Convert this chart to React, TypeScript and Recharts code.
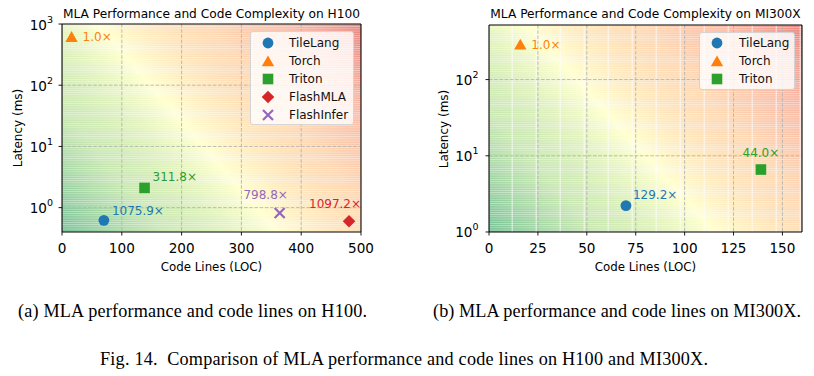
import React from 'react';
import { ScatterChart, Scatter, XAxis, YAxis, CartesianGrid, Legend } from 'recharts';

// ---------------- data ----------------
const h100Methods = ['TileLang', 'Torch', 'Triton', 'FlashMLA', 'FlashInfer'];
const h100Loc = [70, 16, 138, 480, 364];
const h100Latency = [0.62, 620, 2.1, 0.6, 0.82];
const h100Speedup = ['1075.9×', '1.0×', '311.8×', '1097.2×', '798.8×'];

const mi300Methods = ['TileLang', 'Torch', 'Triton'];
const mi300Loc = [70, 16, 139];
const mi300Latency = [2.22, 290, 6.6];
const mi300Speedup = ['129.2×', '1.0×', '44.0×'];

const h100XTicks = [0, 100, 200, 300, 400, 500];
const mi300XTicks = [0, 25, 50, 75, 100, 125, 150];
const h100YTicks = [1, 10, 100, 1000];
const mi300YTicks = [1, 10, 100];

const h100Title = 'MLA Performance and Code Complexity on H100';
const mi300Title = 'MLA Performance and Code Complexity on MI300X';
const xLabel = 'Code Lines (LOC)';
const yLabel = 'Latency (ms)';
const captionA = '(a) MLA performance and code lines on H100.';
const captionB = '(b) MLA performance and code lines on MI300X.';
const figCaption = 'Fig. 14.  Comparison of MLA performance and code lines on H100 and MI300X.';

// ---------------- styles ----------------
const FONT = '"DejaVu Sans", sans-serif';
const SERIF = '"Liberation Serif", "DejaVu Serif", serif';
const AXW = 0.01; // near-zero axis box so axes sit on the plot edge

const COLOR: Record<string, string> = {
  TileLang: '#1f77b4',
  Torch: '#ff7f0e',
  Triton: '#2ca02c',
  FlashMLA: '#d62728',
  FlashInfer: '#9467bd',
};
const SHAPE: Record<string, string> = {
  TileLang: 'circle',
  Torch: 'triangle',
  Triton: 'square',
  FlashMLA: 'diamond',
  FlashInfer: 'x',
};

type LabelPos = { dx: number; dy: number; anchor: 'start' | 'middle' | 'end' };
const h100LabelPos: Record<string, LabelPos> = {
  TileLang: { dx: 8, dy: -10, anchor: 'start' },
  Torch: { dx: 11, dy: 0, anchor: 'start' },
  Triton: { dx: 8, dy: -11, anchor: 'start' },
  FlashMLA: { dx: -14, dy: -18, anchor: 'middle' },
  FlashInfer: { dx: -14, dy: -18, anchor: 'middle' },
};
const mi300LabelPos: Record<string, LabelPos> = {
  TileLang: { dx: 7, dy: -11, anchor: 'start' },
  Torch: { dx: 11, dy: 0, anchor: 'start' },
  Triton: { dx: 0, dy: -17, anchor: 'middle' },
};

function minorTicksFor(lo: number, hi: number): number[] {
  const out: number[] = [];
  for (let e = Math.floor(Math.log10(lo)); e <= Math.ceil(Math.log10(hi)); e++) {
    for (let k = 2; k <= 9; k++) {
      const v = k * Math.pow(10, e);
      if (v > lo * 1.001 && v < hi * 0.999) out.push(v);
    }
  }
  return out;
}

function MarkerGlyph({ kind, cx, cy, color }: { kind: string; cx: number; cy: number; color: string }) {
  switch (kind) {
    case 'circle':
      return <circle cx={cx} cy={cy} r={5.4} fill={color} />;
    case 'triangle':
      return (
        <polygon
          points={`${cx},${cy - 5.6} ${cx - 6.2},${cy + 5.2} ${cx + 6.2},${cy + 5.2}`}
          fill={color}
        />
      );
    case 'square':
      return <rect x={cx - 5.3} y={cy - 5.3} width={10.6} height={10.6} fill={color} />;
    case 'diamond':
      return (
        <polygon
          points={`${cx},${cy - 6.3} ${cx + 6.3},${cy} ${cx},${cy + 6.3} ${cx - 6.3},${cy}`}
          fill={color}
        />
      );
    default:
      return (
        <path
          d={`M${cx - 5},${cy - 5}L${cx + 5},${cy + 5}M${cx - 5},${cy + 5}L${cx + 5},${cy - 5}`}
          stroke={color}
          strokeWidth={2.2}
          fill="none"
        />
      );
  }
}

function XTickLabel(p: any) {
  return (
    <text x={p.x} y={p.y} dy="0.71em" textAnchor="middle" fontSize={13.6} fontFamily={FONT} fill="#000">
      {p.payload.value}
    </text>
  );
}

function YTickLabel(p: any) {
  const exp = Math.round(Math.log10(p.payload.value));
  return (
    <text x={p.x} y={p.y} textAnchor="end" fontSize={13.6} fontFamily={FONT} fill="#000">
      <tspan dy={5.5}>10</tspan>
      <tspan dy={-7} fontSize={9.5}>
        {exp}
      </tspan>
    </text>
  );
}

function LegendBox({ methods, width, height, padTop, gap }: { methods: string[]; width: number; height: number; padTop: number; gap: number }) {
  return (
    <div
      style={{
        boxSizing: 'border-box',
        width,
        height,
        border: '1px solid #d4d4d4',
        borderRadius: 3,
        background: 'rgba(255,255,255,0.8)',
        paddingTop: padTop,
        fontFamily: FONT,
      }}
    >
      {methods.map((m) => (
        <div key={m} style={{ height: 18, display: 'flex', alignItems: 'center' }}>
          <svg width={35} height={18} style={{ flex: 'none' }}>
            <MarkerGlyph kind={SHAPE[m]} cx={17} cy={9} color={COLOR[m]} />
          </svg>
          <span style={{ fontSize: 12, marginLeft: gap, color: '#111', whiteSpace: 'nowrap' }}>{m}</span>
        </div>
      ))}
    </div>
  );
}

type PanelProps = {
  id: string;
  methods: string[];
  loc: number[];
  latency: number[];
  speedup: string[];
  xDomain: [number, number];
  xTicks: number[];
  yDomain: [number, number];
  yTicks: number[];
  labelPos: Record<string, LabelPos>;
  width: number;
  height: number;
  margin: { top: number; right: number; bottom: number; left: number };
  legend: { left: number; top: number; width: number; height: number; padTop: number; gap: number };
  vStripes: boolean;
  yTickMargin: number;
};

function Panel(props: PanelProps) {
  const { id, methods, loc, latency, speedup, xDomain, xTicks, yDomain, yTicks, labelPos, width, height, margin, legend, vStripes, yTickMargin } = props;
  const minor = minorTicksFor(yDomain[0], yDomain[1]);
  const plotX = margin.left;
  const plotY = margin.top;
  const innerX = xTicks.filter((t) => t > xDomain[0] && t < xDomain[1]);
  const innerY = yTicks.filter((t) => t > yDomain[0] && t < yDomain[1]);
  return (
    <ScatterChart width={width} height={height} margin={margin}>
      <defs>
        <linearGradient id={`${id}-grad`} x1="0" y1="1" x2="1.176" y2="0.294">
          <stop offset="0" stopColor="#1a9850" stopOpacity={0.62} />
          <stop offset="0.22" stopColor="#91cf60" stopOpacity={0.5} />
          <stop offset="0.45" stopColor="#ffffbf" stopOpacity={0.75} />
          <stop offset="0.68" stopColor="#fdae61" stopOpacity={0.5} />
          <stop offset="0.85" stopColor="#f46d43" stopOpacity={0.5} />
          <stop offset="1" stopColor="#d73027" stopOpacity={0.62} />
        </linearGradient>
        <pattern
          id={`${id}-stripes`}
          patternUnits="userSpaceOnUse"
          x={plotX}
          y={plotY}
          width={vStripes ? 24 : 50}
          height={2.2}
        >
          <rect x={0} y={0} width={vStripes ? 24 : 50} height={0.9} fill="#fff" fillOpacity={0.42} />
          {vStripes && <rect x={22.6} y={0} width={1.3} height={2.2} fill="#fff" fillOpacity={0.55} />}
        </pattern>
      </defs>
      <CartesianGrid
        xAxisId="main"
        yAxisId="main"
        fill={`url(#${id}-grad)`}
        horizontal={false}
        vertical={false}
      />
      <CartesianGrid
        xAxisId="main"
        yAxisId="main"
        fill={`url(#${id}-stripes)`}
        stroke="#b4b4b4"
        strokeWidth={0.9}
        strokeDasharray="3.6 1.6"
        horizontalValues={innerY}
        verticalValues={innerX}
      />
      <XAxis
        xAxisId="main"
        type="number"
        dataKey="x"
        domain={xDomain}
        ticks={xTicks}
        interval={0}
        height={AXW}
        tickSize={3.5}
        tickMargin={7.5}
        axisLine={{ stroke: '#000', strokeWidth: 1.1 }}
        tickLine={{ stroke: '#000', strokeWidth: 0.9 }}
        tick={(p: any) => <XTickLabel {...p} />}
      />
      <XAxis
        xAxisId="top"
        orientation="top"
        type="number"
        domain={[0, 1]}
        height={AXW}
        tick={false}
        tickLine={false}
        axisLine={{ stroke: '#000', strokeWidth: 1.1 }}
      />
      <YAxis
        yAxisId="main"
        type="number"
        dataKey="y"
        scale="log"
        domain={yDomain}
        ticks={yTicks}
        interval={0}
        width={AXW}
        tickSize={3.5}
        tickMargin={yTickMargin}
        axisLine={{ stroke: '#000', strokeWidth: 1.1 }}
        tickLine={{ stroke: '#000', strokeWidth: 0.9 }}
        tick={(p: any) => <YTickLabel {...p} />}
      />
      <YAxis
        yAxisId="minor"
        type="number"
        scale="log"
        domain={yDomain}
        ticks={minor}
        interval={0}
        width={AXW}
        tickSize={2}
        tick={false}
        axisLine={false}
        tickLine={{ stroke: '#000', strokeWidth: 0.7 }}
      />
      <YAxis
        yAxisId="right"
        orientation="right"
        type="number"
        domain={[0, 1]}
        width={AXW}
        tick={false}
        tickLine={false}
        axisLine={{ stroke: '#000', strokeWidth: 1.1 }}
      />
      {methods.map((m, i) => {
        const pos = labelPos[m];
        return (
          <Scatter
            key={m}
            name={m}
            xAxisId="main"
            yAxisId="main"
            data={[{ x: loc[i], y: latency[i] }]}
            fill={COLOR[m]}
            isAnimationActive={false}
            shape={(p: any) => (
              <g>
                <MarkerGlyph kind={SHAPE[m]} cx={p.cx} cy={p.cy} color={COLOR[m]} />
                <text
                  x={p.cx + pos.dx}
                  y={p.cy + pos.dy + 4.3}
                  textAnchor={pos.anchor}
                  fontSize={12}
                  fontFamily={FONT}
                  fill={COLOR[m]}
                >
                  {speedup[i]}
                </text>
              </g>
            )}
          />
        );
      })}
      <Legend
        layout="vertical"
        align="center"
        verticalAlign="middle"
        wrapperStyle={{ left: legend.left, top: legend.top, width: legend.width, height: legend.height }}
        content={() => (
          <LegendBox methods={methods} width={legend.width} height={legend.height} padTop={legend.padTop} gap={legend.gap} />
        )}
      />
    </ScatterChart>
  );
}

export default function App() {
  const leftPlot = { x0: 62, x1: 361, y0: 24, y1: 232 };
  const rightPlot = { x0: 489, x1: 802, y0: 25, y1: 232 };
  return (
    <div
      style={{
        position: 'absolute',
        left: 0,
        top: 0,
        width: 814,
        height: 376,
        background: '#fff',
        overflow: 'hidden',
      }}
    >
      <div style={{ position: 'absolute', left: 0, top: 0 }}>
        <Panel
          id="h100"
          methods={h100Methods}
          loc={h100Loc}
          latency={h100Latency}
          speedup={h100Speedup}
          xDomain={[0, 500]}
          xTicks={h100XTicks}
          yDomain={[0.4, 1000]}
          yTicks={h100YTicks}
          labelPos={h100LabelPos}
          width={400}
          height={280}
          margin={{ top: 24, right: 39, bottom: 48, left: 62 }}
          legend={{ left: 250, top: 31, width: 104, height: 94, padTop: 1.7, gap: 3 }}
          vStripes={false}
          yTickMargin={5.5}
        />
      </div>
      <div style={{ position: 'absolute', left: 410, top: 0 }}>
        <Panel
          id="mi300"
          methods={mi300Methods}
          loc={mi300Loc}
          latency={mi300Latency}
          speedup={mi300Speedup}
          xDomain={[0, 160]}
          xTicks={mi300XTicks}
          yDomain={[1, 520]}
          yTicks={mi300YTicks}
          labelPos={mi300LabelPos}
          width={404}
          height={280}
          margin={{ top: 25, right: 12, bottom: 48, left: 79 }}
          legend={{ left: 289, top: 32, width: 96, height: 58, padTop: 0.7, gap: 4 }}
          vStripes={true}
          yTickMargin={7}
        />
      </div>
      <svg
        width={814}
        height={376}
        style={{ position: 'absolute', left: 0, top: 0, pointerEvents: 'none' }}
      >
        <g fontFamily={FONT} fill="#000">
          <text x={(leftPlot.x0 + leftPlot.x1) / 2} y={17.5} textAnchor="middle" fontSize={12.2}>
            {h100Title}
          </text>
          <text x={(rightPlot.x0 + rightPlot.x1) / 2} y={17.5} textAnchor="middle" fontSize={12.2}>
            {mi300Title}
          </text>
          <text x={(leftPlot.x0 + leftPlot.x1) / 2} y={270.5} textAnchor="middle" fontSize={11.8}>
            {xLabel}
          </text>
          <text x={(rightPlot.x0 + rightPlot.x1) / 2} y={270.5} textAnchor="middle" fontSize={11.8}>
            {xLabel}
          </text>
          <text x={0} y={0} textAnchor="middle" fontSize={12} transform={`translate(${21.5},${128}) rotate(-90)`}>
            {yLabel}
          </text>
          <text x={0} y={0} textAnchor="middle" fontSize={12} transform={`translate(${447.5},${129}) rotate(-90)`}>
            {yLabel}
          </text>
        </g>
        <g fontFamily={SERIF} fill="#000" fontSize={18.2}>
          <text x={18} y={317} textLength={349} lengthAdjust="spacing">
            {captionA}
          </text>
          <text x={433} y={317} textLength={368} lengthAdjust="spacing">
            {captionB}
          </text>
          <text x={100} y={365} textLength={608} lengthAdjust="spacing" style={{ whiteSpace: 'pre' }}>
            {figCaption}
          </text>
        </g>
      </svg>
    </div>
  );
}
